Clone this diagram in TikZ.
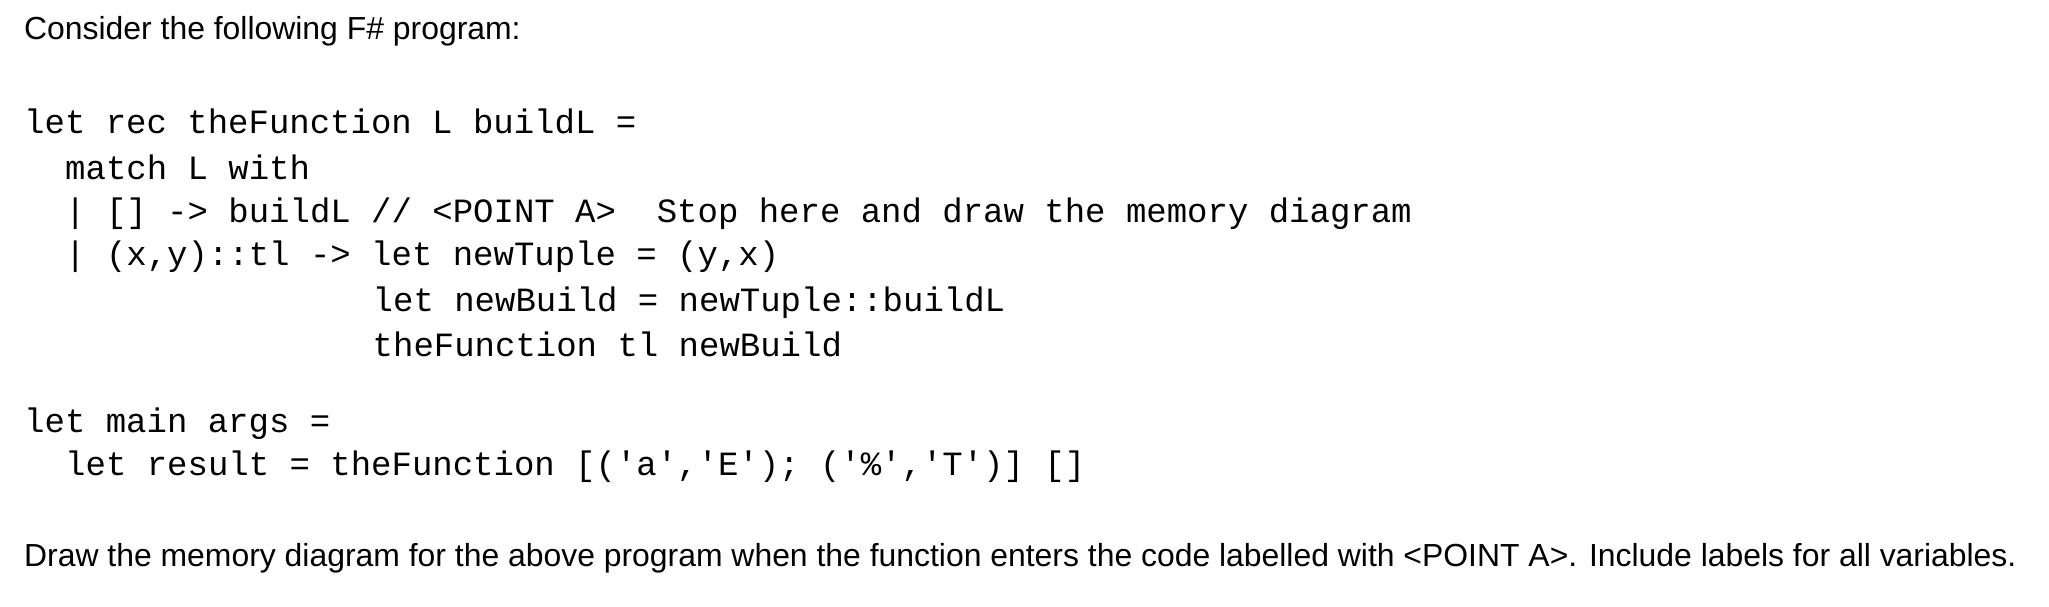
\documentclass[tikz,border=0pt]{standalone}
\usepackage{fontspec}
\setmainfont{Liberation Sans}
\setmonofont{Liberation Mono}
\begin{document}
\begin{tikzpicture}[x=1pt,y=-1pt,
  code/.style={anchor=base west,inner sep=0pt,font=\fontsize{34}{40}\ttfamily},
  prose/.style={anchor=base west,inner sep=0pt,font=\fontsize{31.9}{38}\selectfont}]
\useasboundingbox (0,0) rectangle (2049,607);
\def\cw{20.5}
\node[prose] (t1) at (24,40) {Consider the following F\# program:};
\node[code] (c1) at (24,134) {let rec theFunction L buildL =};
\node[code] (c2) at (24+2*\cw,179) {match L with};
\node[code] (c3) at (24+2*\cw,222) {| [] -> buildL // <POINT A>~~Stop here and draw the memory diagram};
\node[code] (c4) at (24+2*\cw,265) {| (x,y)::tl -> let newTuple = (y,x)};
\node[code] (c5) at (24+17*\cw,311) {let newBuild = newTuple::buildL};
\node[code] (c6) at (24+17*\cw,356) {theFunction tl newBuild};
\node[code] (c7) at (24,432) {let main args =};
\node[code] (c8) at (24+2*\cw,475) {let result = theFunction [('a','E'); ('\%','T')] []};
\node[prose] (t2) at (24,566) {Draw the memory diagram for the above program when the function enters the code labelled with <POINT A>. Include labels for all variables.};
\end{tikzpicture}
\end{document}
